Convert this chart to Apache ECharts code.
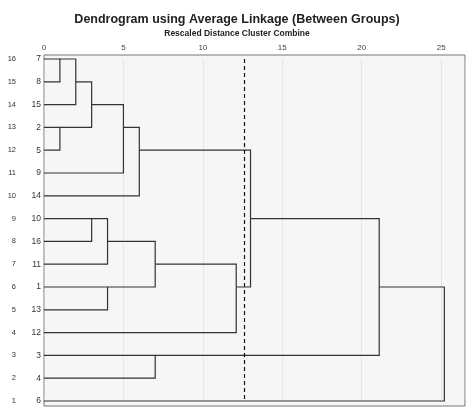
<!DOCTYPE html><html><head><meta charset="utf-8"><script src="https://cdn.jsdelivr.net/npm/echarts@6/dist/echarts.min.js"></script>
<style>html,body{margin:0;background:#fff}#c{width:474px;height:414px}</style></head><body><div id="c"></div><script>
const leaves=['7','8','15','2','5','9','14','10','16','11','1','13','12','3','4','6'];
const rowNumbers=['16','15','14','13','12','11','10','9','8','7','6','5','4','3','2','1'];
// merges: [clusterA, clusterB, distance]; leaves by label, new clusters as 'c#'
const merges=[
 ['7','8',1],['2','5',1],['c0','15',2],['c2','c1',3],['c3','9',5],['c4','14',6],
 ['10','16',3],['c6','11',4],['1','13',4],['c7','c8',7],['c9','12',12.1],['c5','c10',13],
 ['3','4',7],['c11','c12',21.1],['c13','6',25.2]];
const cutoff=12.6;
const ticks=[0,5,10,15,20,25];

const pos={},hgt={};
leaves.forEach((l,i)=>{pos[l]=i;hgt[l]=0;});
const segs=[];
merges.forEach((m,i)=>{
 const [a,b,d]=m;
 segs.push([[hgt[a],pos[a]],[d,pos[a]],[d,pos[b]],[hgt[b],pos[b]]]);
 const id='c'+i;pos[id]=Math.floor((pos[a]+pos[b])/2);hgt[id]=d;
});
const ch=echarts.init(document.getElementById('c'));
ch.setOption({
 animation:false,
 title:{text:'Dendrogram using Average Linkage (Between Groups)',left:'center',top:8,
  textStyle:{fontSize:12.5,fontWeight:'bold',color:'#222',fontFamily:'Liberation Sans'},
  subtext:'Rescaled Distance Cluster Combine',itemGap:3,
  subtextStyle:{fontSize:8.5,fontWeight:'bold',color:'#222',fontFamily:'Liberation Sans'}},
 grid:[{left:44,right:9,top:59,bottom:13,show:false},
       {left:44,right:9,top:55,bottom:8,show:true,backgroundColor:'#f6f6f6',borderColor:'#777',borderWidth:1}],
 xAxis:[{type:'value',position:'top',min:0,max:26.5,interval:5,
   axisLine:{show:false},axisTick:{show:false},
   axisLabel:{fontSize:8,color:'#444',showMaxLabel:false,margin:7,
     formatter:v=>ticks.includes(v)?String(v):''},
   splitLine:{lineStyle:{color:'#d8d8d8',type:'dotted'}}},
  {type:'value',gridIndex:1,show:false}],
 yAxis:[{type:'category',data:leaves,inverse:true,boundaryGap:false,
   axisLine:{show:false},axisTick:{show:false},axisLabel:{fontSize:8.5,color:'#333',margin:3}},
  {type:'category',data:rowNumbers,inverse:true,boundaryGap:false,position:'left',offset:20,
   axisLine:{show:false},axisTick:{show:false},axisLabel:{fontSize:7.5,color:'#333'}},
  {type:'value',gridIndex:1,show:false}],
 series:[{type:'custom',coordinateSystem:'cartesian2d',data:segs.map((s,i)=>[i]),
   renderItem:(p,api)=>{const s=segs[api.value(0)];
     return {type:'polyline',shape:{points:s.map(q=>api.coord(q))},
       style:{stroke:'#333',lineWidth:1.2,fill:null}};},
   markLine:{silent:true,symbol:'none',label:{show:false},
     lineStyle:{color:'#111',type:[4,3],width:1.2},data:[{xAxis:cutoff}]}}]
});
</script></body></html>
